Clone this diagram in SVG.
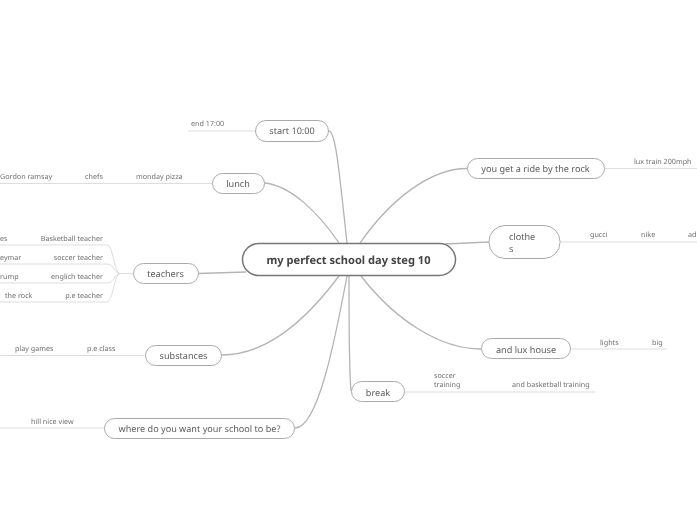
<svg xmlns="http://www.w3.org/2000/svg" width="697" height="520" viewBox="0 0 697 520">
<style>
text{font-family:"Noto Sans","Open Sans",sans-serif;fill:#5c5c5c;text-rendering:geometricPrecision}
.n{font-size:9.1px;text-anchor:middle}
.s{font-size:7.2px;fill:#707070}
.b{fill:#fff;stroke:#aaa;stroke-width:1}
.main{fill:none;stroke:#b4b4b4;stroke-width:1.300}
.sub{fill:none;stroke:#ddd;stroke-width:1}
</style>
<defs><filter id="gray" filterUnits="userSpaceOnUse" x="0" y="0" width="697" height="520"><feOffset dx="0" dy="0"/></filter></defs>
<rect width="697" height="520" fill="#fff"/>
<g id="connectors">
<path class="main" d="M329 131C336 131 340 180 347 243"/>
<path class="main" d="M264 183C290 185 318 212 339 243"/>
<path class="main" d="M198 273.500L246 272"/>
<path class="main" d="M222 355C270 355 310 315 339 276"/>
<path class="main" d="M295 428C318 428 335 340 347 276"/>
<path class="main" d="M467 168.500C430 168.500 390 200 360 243"/>
<path class="main" d="M489 242L445 244"/>
<path class="main" d="M481 349C440 349 395 320 361 276"/>
<path class="main" d="M351 391C349 370 349 320 349 276"/>
<path class="sub" d="M255 131H188"/>
<path class="sub" d="M212 183.500H0"/>
<path class="sub" d="M133 273.500H120C114 273 113 244 107 245H0"/>
<path class="sub" d="M120 273.500C114 273 114 264 107 264H0"/>
<path class="sub" d="M120 273.500C114 274 114 283 107 283H0"/>
<path class="sub" d="M120 273.500C114 274 113 302 107 302H0"/>
<path class="sub" d="M146 355.500H0"/>
<path class="sub" d="M105 428H0"/>
<path class="sub" d="M604 168.500H697"/>
<path class="sub" d="M560 242H697"/>
<path class="sub" d="M570 349H667"/>
<path class="sub" d="M404 392H595"/>
</g>
<g filter="url(#gray)">
<g id="center"><rect x="242.500" y="243.500" width="213" height="32" rx="16" fill="#fff" stroke="#777" stroke-width="1.500"/><text x="348.500" y="264" style="font-size:11.100px;font-weight:700;text-anchor:middle;fill:#444">my perfect school day steg 10</text></g>
<g id="start"><rect class="b" x="255.500" y="120.500" width="73" height="21" rx="10.500"/><text class="n" x="292" y="134">start 10:00</text><text class="s" x="191" y="126">end 17:00</text></g>
<g id="lunch"><rect class="b" x="212.500" y="173.500" width="52" height="20" rx="10"/><text class="n" x="238" y="187">lunch</text><text class="s" x="136" y="179">monday pizza</text><text class="s" x="85" y="179">chefs</text><text class="s" x="0" y="179">Gordon ramsay</text></g>
<g id="teachers"><rect class="b" x="133.500" y="263.500" width="65" height="20" rx="10"/><text class="n" x="165.500" y="277">teachers</text>
<text class="s" x="103" y="241" text-anchor="end">Basketball teacher</text><text class="s" x="0" y="241">es</text>
<text class="s" x="103" y="260" text-anchor="end">soccer teacher</text><text class="s" x="0" y="260">eymar</text>
<text class="s" x="103" y="279" text-anchor="end">englich teacher</text><text class="s" x="0" y="279">rump</text>
<text class="s" x="103" y="298" text-anchor="end">p.e teacher</text><text class="s" x="5" y="298">the rock</text></g>
<g id="substances"><rect class="b" x="145.500" y="345.500" width="76" height="20" rx="10"/><text class="n" x="183.500" y="359">substances</text><text class="s" x="87" y="351">p.e class</text><text class="s" x="15" y="351">play games</text></g>
<g id="where"><rect class="b" x="104.500" y="418.500" width="190" height="20" rx="10"/><text class="n" x="199.500" y="432">where do you want your school to be?</text><text class="s" x="31" y="424">hill nice view</text></g>
<g id="ride"><rect class="b" x="467.500" y="158.500" width="137" height="20" rx="10"/><text class="n" x="535.500" y="172">you get a ride by the rock</text><text class="s" x="634" y="164">lux train 200mph</text></g>
<g id="clothes"><rect class="b" x="489" y="225.500" width="71" height="33" rx="16"/><text class="n" x="509" y="240" style="text-anchor:start">clothe</text><text class="n" x="509" y="252" style="text-anchor:start">s</text><text class="s" x="590" y="237">gucci</text><text class="s" x="641" y="237">nike</text><text class="s" x="688" y="237">adi</text></g>
<g id="house"><rect class="b" x="481.500" y="338.500" width="89" height="20" rx="10"/><text class="n" x="526" y="353">and lux house</text><text class="s" x="600" y="345">lights</text><text class="s" x="652" y="345">big</text></g>
<g id="break"><rect class="b" x="351.500" y="381.500" width="53" height="20" rx="10"/><text class="n" x="378" y="396">break</text><text class="s" x="434" y="378">soccer</text><text class="s" x="434" y="387">training</text><text class="s" x="512" y="387">and basketball training</text></g>
</g>
</svg>
